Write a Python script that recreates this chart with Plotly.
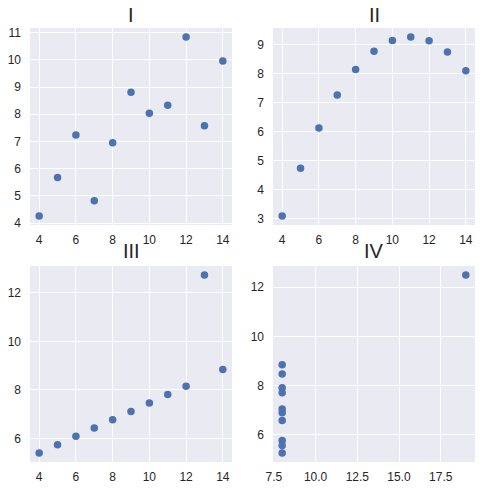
import plotly.graph_objects as go

x123 = [10, 8, 13, 9, 11, 14, 6, 4, 12, 7, 5]
y1 = [8.04, 6.95, 7.58, 8.81, 8.33, 9.96, 7.24, 4.26, 10.84, 4.82, 5.68]
y2 = [9.14, 8.14, 8.74, 8.77, 9.26, 8.10, 6.13, 3.10, 9.13, 7.26, 4.74]
y3 = [7.46, 6.77, 12.74, 7.11, 7.81, 8.84, 6.08, 5.39, 8.15, 6.42, 5.73]
x4 = [8, 8, 8, 8, 8, 8, 8, 19, 8, 8, 8]
y4 = [6.58, 5.76, 7.71, 8.84, 8.47, 7.04, 5.25, 12.50, 5.56, 7.91, 6.89]
titles = ["I", "II", "III", "IV"]

W, H = 488, 489
panels = [
    (x123, y1, (30, 232), (28, 225), 14.5),
    (x123, y2, (273, 475), (28, 225), 14.5),
    (x123, y3, (30, 232), (266, 462), 251),
    (x4, y4, (273, 475), (266, 462), 251),
]

def pad(vals):
    lo, hi = min(vals), max(vals)
    m = (hi - lo) * 0.05
    return [lo - m, hi + m]

fig = go.Figure()
layout = dict(
    width=W, height=H, margin=dict(l=0, r=0, t=0, b=0, autoexpand=False),
    paper_bgcolor="white", plot_bgcolor="#EAEAF2", showlegend=False,
    font=dict(family="Liberation Sans, Arial, sans-serif", size=12, color="#262626"),
    annotations=[],
)
dticks_x = [2, 2, 2, 2.5]
dticks_y = [1, 1, 2, 2]
for i, (xs, ys, (x0, x1), (y0, y1_), ty) in enumerate(panels):
    n = "" if i == 0 else str(i + 1)
    fig.add_trace(go.Scatter(
        x=xs, y=ys, mode="markers", xaxis="x" + n, yaxis="y" + n,
        marker=dict(color="#4C72B0", size=7.5, line=dict(width=0)),
    ))
    ax = dict(
        domain=[x0 / W, x1 / W], range=pad(xs), anchor="y" + n,
        showgrid=True, gridcolor="white", gridwidth=1.3, zeroline=False,
        showline=False, ticks="", dtick=dticks_x[i], tick0=0,
        ticklabelstandoff=6, automargin=False,
    )
    if i == 3:
        ax["tickformat"] = ".1f"
        ax["tick0"] = 7.5
    ay = dict(
        domain=[1 - y1_ / H, 1 - y0 / H], range=pad(ys), anchor="x" + n,
        showgrid=True, gridcolor="white", gridwidth=1.3, zeroline=False,
        showline=False, ticks="", dtick=dticks_y[i], tick0=0,
        ticklabelstandoff=8, automargin=False,
    )
    layout["xaxis" + n] = ax
    layout["yaxis" + n] = ay
    layout["annotations"].append(dict(
        text=titles[i], x=(x0 + x1) / 2 / W, y=1 - ty / H,
        xref="paper", yref="paper", xanchor="center", yanchor="middle",
        showarrow=False, font=dict(size=20, color="#262626"),
    ))

fig.update_layout(**layout)
fig.write_html(
    "out.html",
    config={"displayModeBar": False},
    post_script="document.body.style.margin='0';document.body.style.overflow='hidden';",
)
